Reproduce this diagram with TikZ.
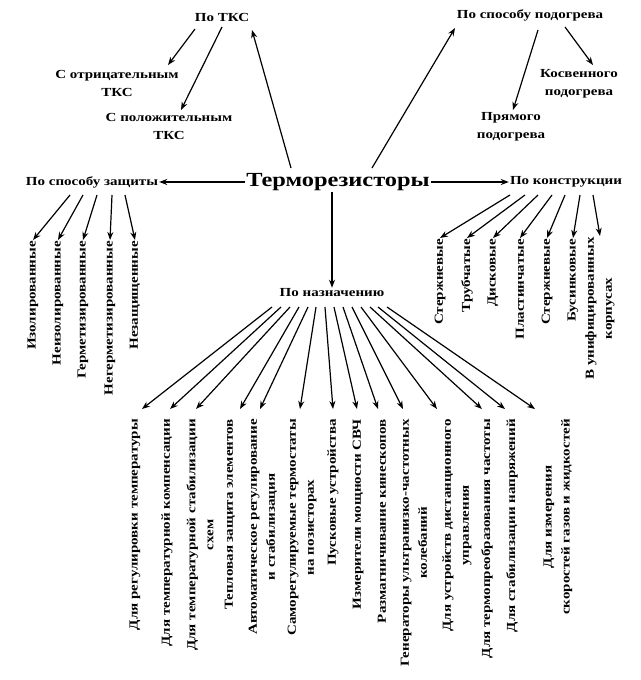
\documentclass[tikz,border=0pt]{standalone}
\usepackage{fontspec}
\usetikzlibrary{arrows.meta}
\setmainfont{Liberation Serif}[FakeStretch=1.22]
\begin{document}
\begin{tikzpicture}[x=1pt,y=-1pt,
  every node/.style={font=\fontsize{12.3}{18}\bfseries\selectfont, inner sep=1pt, align=center},
  rl/.style={rotate=90, anchor=east},
  ar/.style={-{Stealth[length=8pt,width=6pt]}, line width=1.2pt}]
\useasboundingbox (0,0) rectangle (640,680);
\node (T) at (338,182) {\fontsize{20}{24}\selectfont Терморезисторы};
\node (tks) at (222,17) {По ТКС};
\node (neg) at (117,83) {С отрицательным\\ТКС};
\node (pos) at (169,126) {С положительным\\ТКС};
\node (pod) at (530,15) {По способу подогрева};
\node (kos) at (579,84) {Косвенного\\подогрева};
\node (pr) at (511,127) {Прямого\\подогрева};
\node (zas) at (92,182) {По способу защиты};
\node (kon) at (566,182) {По конструкции};
\node (naz) at (332,293) {По назначению};
% TKS
\coordinate (t1) at (291,168); \coordinate (t2) at (252,30);
\draw[ar] (t1) -- (t2);
\coordinate (k1) at (195,29); \coordinate (k2) at (168,65);
\draw[ar] (k1) -- (k2);
\coordinate (k3) at (222,27); \coordinate (k4) at (181,110);
\draw[ar] (k3) -- (k4);
% podogrev
\coordinate (p1) at (372,168); \coordinate (p2) at (455,28);
\draw[ar] (p1) -- (p2);
\coordinate (p3) at (538,30); \coordinate (p4) at (513,110);
\draw[ar] (p3) -- (p4);
\coordinate (p5) at (565,27); \coordinate (p6) at (593,65);
\draw[ar] (p5) -- (p6);
% sides
\draw[ar] (T.west) -- (zas.east);
\draw[ar] (T.east) -- (kon.west);
\draw[ar] (T.south -| naz) -- (naz.north);
% zashchita
\foreach \n/\x/\t [count=\i] in {z1/33/Изолированные, z2/58/Неизолированные, z3/83/Герметизированные, z4/110/Негерметизированные, z5/135/Незащищенные}{
  \node[rl] (\n) at (\x,240) {\t};}
\foreach \s/\n in {70/z1,83/z2,97/z3,112/z4,125/z5}{
  \coordinate (c\n) at (\s,195);
  \draw[ar] (c\n) -- (\n.east);}
% konstrukcii
\node[rl] (r1) at (440,238) {Стержневые};
\node[rl] (r2) at (467,238) {Трубчатые};
\node[rl] (r3) at (493,238) {Дисковые};
\node[rl] (r4) at (520,238) {Пластинчатые};
\node[rl] (r5) at (547,238) {Стержневые};
\node[rl] (r6) at (573,238) {Бусинковые};
\node[rl] (r7) at (600,236) {В унифицированных\\корпусах};
\foreach \s/\n in {510/r1,525/r2,538/r3,552/r4,565/r5,580/r6,593/r7}{
  \coordinate (c\n) at (\s,195);
  \draw[ar] (c\n) -- (\n.east);}
% naznachenie
\node[rl] (b1) at (135,418) {Для регулировки температуры};
\node[rl] (b2) at (167,418) {Для температурной компенсации};
\node[rl] (b3) at (200,418) {Для температурной стабилизации\\схем};
\node[rl] (b4) at (230,418) {Тепловая защита элементов};
\node[rl] (b5) at (263,418) {Автоматическое регулирование\\и стабилизация};
\node[rl] (b6) at (302,418) {Саморегулируемые термостаты\\на позисторах};
\node[rl] (b7) at (333,418) {Пусковые устройства};
\node[rl] (b8) at (358,418) {Измерители мощности СВЧ};
\node[rl] (b9) at (382,418) {Размагничивание кинескопов};
\node[rl] (b10) at (414,418) {Генераторы ультранизко-частотных\\колебаний};
\node[rl] (b11) at (457,418) {Для устройств дистанционного\\управления};
\node[rl] (b12) at (487,418) {Для термопреобразования частоты};
\node[rl] (b13) at (512,418) {Для стабилизации напряжений};
\node[rl] (b14) at (558,418) {Для измерения\\скоростей газов и жидкостей};
\foreach \s/\tx/\n [count=\i] in {272/142/b1,281/170/b2,290/196/b3,299/240/b4,308/260/b5,316/300/b6,325/333/b7,334/357/b8,343/378/b9,352/403/b10,361/437/b11,370/482/b12,378/505/b13,387/535/b14}{
  \coordinate (s\n) at (\s,307); \coordinate (e\n) at (\tx,409);
  \draw[ar] (s\n) -- (e\n);}
\end{tikzpicture}
\end{document}
